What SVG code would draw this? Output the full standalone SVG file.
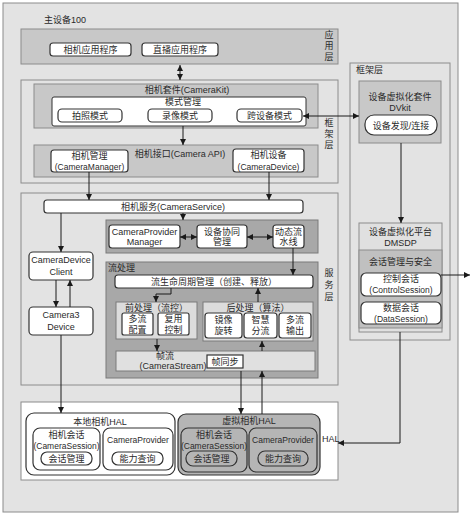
<svg xmlns="http://www.w3.org/2000/svg" width="474" height="517" viewBox="0 0 474 517">
<style>
text{font-family:"Liberation Sans","Noto Sans CJK SC",sans-serif;font-size:9px;fill:#2a2a2a;text-anchor:middle}
.l{text-anchor:start}
.s{font-size:8.5px}
.bg{fill:#e3e3e3;stroke:#8c8c8c;stroke-width:1}
.mid{fill:#c8c8c8;stroke:#8c8c8c;stroke-width:1}
.dark{fill:#a8a8a8;stroke:#7a7a7a;stroke-width:1}
.lt{fill:#dcdcdc;stroke:#7a7a7a;stroke-width:1}
.w{fill:#fff;stroke:#333;stroke-width:1.2}
.v{fill:#b5b5b5;stroke:#333;stroke-width:1.2}
.c{fill:none;stroke:#1a1a1a;stroke-width:1}
</style>
<defs>
<marker id="a" viewBox="0 0 6 6" refX="6" refY="3" markerWidth="6" markerHeight="6" markerUnits="userSpaceOnUse" orient="auto-start-reverse">
<path d="M0,0 L6,3 L0,6 z" fill="#1a1a1a"/>
</marker>
</defs>

<g id="main-device">
<rect class="bg" x="3" y="3" width="455" height="509"/>
<text class="l" x="44" y="23">主设备100</text>
</g>

<g id="app-layer">
<rect class="mid" x="21" y="29" width="317" height="35"/>
<text x="329" y="38">应</text><text x="329" y="49">用</text><text x="329" y="60">层</text>
</g>
<g id="camera-app"><rect class="w" x="50" y="43" width="81" height="13" rx="3"/><text x="90.5" y="53">相机应用程序</text></g>
<g id="live-app"><rect class="w" x="142" y="43" width="76" height="13" rx="3"/><text x="180" y="53">直播应用程序</text></g>

<g id="framework-layer">
<rect class="bg" x="21" y="80" width="317" height="103"/>
<text x="329" y="126">框</text><text x="329" y="137">架</text><text x="329" y="148">层</text>
</g>
<g id="camerakit">
<rect class="mid" x="34" y="84" width="284" height="44"/>
<text x="187" y="93">相机套件(CameraKit)</text>
</g>
<g id="mode-mgmt">
<rect x="52" y="97" width="254" height="29" rx="2" fill="#fff" stroke="#333" stroke-width="1"/>
<text x="183" y="105">模式管理</text>
</g>
<g id="photo-mode"><rect class="w" x="58" y="109" width="64" height="13" rx="4"/><text x="90" y="119">拍照模式</text></g>
<g id="video-mode"><rect class="w" x="148" y="109" width="64" height="13" rx="4"/><text x="180" y="119">录像模式</text></g>
<g id="cross-mode"><rect class="w" x="237" y="109" width="65" height="13" rx="4"/><text x="269.5" y="119">跨设备模式</text></g>

<g id="camera-api">
<rect class="mid" x="34" y="145" width="284" height="32"/>
<text x="180" y="157">相机接口(Camera API)</text>
</g>
<g id="camera-manager"><rect class="w" x="51" y="150" width="77" height="22" rx="3"/><text x="89.5" y="159">相机管理</text><text class="s" x="89.5" y="169.5">(CameraManager)</text></g>
<g id="camera-device"><rect class="w" x="233" y="149" width="71" height="23" rx="3"/><text x="268.5" y="158">相机设备</text><text class="s" x="268.5" y="169.5">(CameraDevice)</text></g>

<g id="service-layer">
<rect class="bg" x="21" y="193" width="317" height="192"/>
<text x="329" y="276">服</text><text x="329" y="288">务</text><text x="329" y="300">层</text>
</g>
<g id="camera-service"><rect class="w" x="44" y="200" width="259" height="13" rx="3"/><text x="173" y="210">相机服务(CameraService)</text></g>
<g id="provider-group"><rect class="dark" x="106" y="220" width="212" height="33"/></g>
<g id="cpm"><rect class="w" x="109" y="225" width="71" height="23" rx="3"/><text x="144.5" y="234.5">CameraProvider</text><text x="144.5" y="245">Manager</text></g>
<g id="coop"><rect class="w" x="197" y="225" width="50" height="23" rx="3"/><text x="222" y="234.5">设备协同</text><text x="222" y="245">管理</text></g>
<g id="pipeline"><rect class="w" x="273" y="225" width="31" height="23" rx="3"/><text x="288.5" y="234.5">动态流</text><text x="288.5" y="245">水线</text></g>

<g id="client"><rect class="w" x="29" y="252" width="64" height="28" rx="4"/><text x="61" y="263">CameraDevice</text><text x="61" y="275">Client</text></g>
<g id="camera3"><rect class="w" x="29" y="307" width="64" height="28" rx="4"/><text x="61" y="318">Camera3</text><text x="61" y="330">Device</text></g>

<g id="stream-proc">
<rect class="dark" x="106" y="262" width="212" height="116"/>
<text class="l" x="108" y="271">流处理</text>
</g>
<g id="lifecycle"><rect class="w" x="115" y="275" width="198" height="13" rx="3"/><text x="214" y="285">流生命周期管理（创建、释放）</text></g>
<g id="pre">
<rect class="lt" x="116" y="302" width="81" height="37"/>
<text x="156.5" y="311">前处理（流控）</text>
</g>
<g id="multi-cfg"><rect class="w" x="122" y="313" width="31" height="22" rx="2"/><text x="137.5" y="322">多流</text><text x="137.5" y="333">配置</text></g>
<g id="reuse"><rect class="w" x="158" y="313" width="31" height="22" rx="2"/><text x="173.5" y="322">复用</text><text x="173.5" y="333">控制</text></g>
<g id="post">
<rect class="lt" x="203" y="302" width="110" height="39"/>
<text x="258" y="311">后处理（算法）</text>
</g>
<g id="mirror"><rect class="w" x="205" y="313" width="37" height="25" rx="3"/><text x="223.5" y="323">镜像</text><text x="223.5" y="334">旋转</text></g>
<g id="smart"><rect class="w" x="244" y="313" width="33" height="25" rx="3"/><text x="260.5" y="323">智慧</text><text x="260.5" y="334">分流</text></g>
<g id="multi-out"><rect class="w" x="279" y="313" width="32" height="25" rx="3"/><text x="295" y="323">多流</text><text x="295" y="334">输出</text></g>
<g id="camera-stream">
<rect x="116" y="351" width="199" height="20" fill="#e0e0e0" stroke="#7a7a7a"/>
<text x="165" y="359">帧流</text><text x="173" y="369">(CameraStream)</text>
</g>
<g id="frame-sync"><rect class="w" x="207" y="355" width="36" height="13"/><text x="225" y="365">帧同步</text></g>

<g id="hal">
<rect x="21" y="402" width="317" height="78" fill="#fff" stroke="#8c8c8c"/>
<text class="l" x="322" y="442">HAL</text>
</g>
<g id="local-hal">
<rect class="w" x="26" y="413" width="149" height="62" rx="8"/>
<text x="100" y="425">本地相机HAL</text>
<rect class="w" x="33" y="428" width="67" height="42" rx="7"/>
<text x="66.5" y="438">相机会话</text><text class="s" x="66.5" y="449">(CameraSession)</text>
<rect class="w" x="41" y="452" width="51" height="13" rx="6"/><text x="66.5" y="462">会话管理</text>
<rect class="w" x="103" y="428" width="70" height="42" rx="7"/>
<text class="s" x="138" y="443">CameraProvider</text>
<rect class="w" x="112" y="452" width="51" height="13" rx="6"/><text x="137.5" y="462">能力查询</text>
</g>
<g id="virtual-hal">
<rect class="v" x="178" y="414" width="142" height="61" rx="8"/>
<text x="249" y="424">虚拟相机HAL</text>
<rect class="v" x="181" y="428" width="66" height="44" rx="7"/>
<text x="214" y="438">相机会话</text><text class="s" x="214" y="449">(CameraSession)</text>
<rect class="v" x="186" y="451" width="51" height="15" rx="7"/><text x="211.5" y="462">会话管理</text>
<rect class="v" x="249" y="428" width="68" height="44" rx="7"/>
<text class="s" x="283" y="443">CameraProvider</text>
<rect class="v" x="258" y="451" width="50" height="15" rx="7"/><text x="283" y="462">能力查询</text>
</g>

<g id="right-framework">
<rect class="bg" x="350" y="63" width="100" height="277"/>
<text class="l" x="356" y="73">框架层</text>
</g>
<g id="dvkit">
<rect class="mid" x="359" y="81" width="82" height="62"/>
<text x="400" y="100">设备虚拟化套件</text><text x="400" y="111">DVkit</text>
<rect class="w" x="365" y="115" width="72" height="20" rx="9"/><text x="401" y="129">设备发现/连接</text>
</g>
<g id="dmsdp">
<rect x="359" y="223" width="83" height="109" fill="#e0e0e0" stroke="#8c8c8c"/>
<text x="400.5" y="235">设备虚拟化平台</text><text x="400.5" y="246">DMSDP</text>
<rect x="359" y="250" width="83" height="78" fill="#c0c0c0" stroke="#8c8c8c"/>
<text x="400.5" y="265">会话管理与安全</text>
<rect class="w" x="361" y="273" width="80" height="23" rx="5"/>
<text x="401" y="282">控制会话</text><text class="s" x="401" y="293">(ControlSession)</text>
<rect class="w" x="361" y="302" width="80" height="22" rx="5"/>
<text x="401" y="311">数据会话</text><text class="s" x="401" y="322">(DataSession)</text>
</g>

<g id="connectors">
<line class="c" x1="180" y1="65" x2="180" y2="80" marker-start="url(#a)" marker-end="url(#a)"/>
<line class="c" x1="183" y1="126" x2="183" y2="145" marker-end="url(#a)"/>
<line class="c" x1="303" y1="116" x2="359" y2="116" marker-start="url(#a)" marker-end="url(#a)"/>
<line class="c" x1="89" y1="172" x2="89" y2="200" marker-end="url(#a)"/>
<line class="c" x1="269" y1="172" x2="269" y2="200" marker-end="url(#a)"/>
<line class="c" x1="183" y1="213" x2="183" y2="220" marker-end="url(#a)"/>
<line class="c" x1="180" y1="237" x2="197" y2="237" marker-start="url(#a)" marker-end="url(#a)"/>
<line class="c" x1="247" y1="237" x2="273" y2="237" marker-start="url(#a)" marker-end="url(#a)"/>
<line class="c" x1="293" y1="248" x2="293" y2="275" marker-end="url(#a)"/>
<line class="c" x1="61" y1="213" x2="61" y2="252" marker-end="url(#a)"/>
<line class="c" x1="56" y1="280" x2="56" y2="307" marker-end="url(#a)"/>
<line class="c" x1="70" y1="307" x2="70" y2="280" marker-end="url(#a)"/>
<line class="c" x1="61" y1="335" x2="61" y2="413" marker-end="url(#a)"/>
<polyline class="c" points="171,288 171,294 156,294 156,302" marker-end="url(#a)"/>
<line class="c" x1="258" y1="302" x2="258" y2="288" marker-end="url(#a)"/>
<line class="c" x1="157" y1="339" x2="157" y2="351" marker-end="url(#a)"/>
<line class="c" x1="262" y1="351" x2="262" y2="341" marker-end="url(#a)"/>
<line class="c" x1="241" y1="371" x2="241" y2="414" marker-end="url(#a)"/>
<line class="c" x1="262" y1="414" x2="262" y2="371" marker-end="url(#a)"/>
<line class="c" x1="401" y1="143" x2="401" y2="223" marker-end="url(#a)"/>
<line class="c" x1="441" y1="275" x2="470" y2="275" marker-end="url(#a)"/>
<polyline class="c" points="400,332 400,443 338,443" marker-end="url(#a)"/>
</g>
</svg>
